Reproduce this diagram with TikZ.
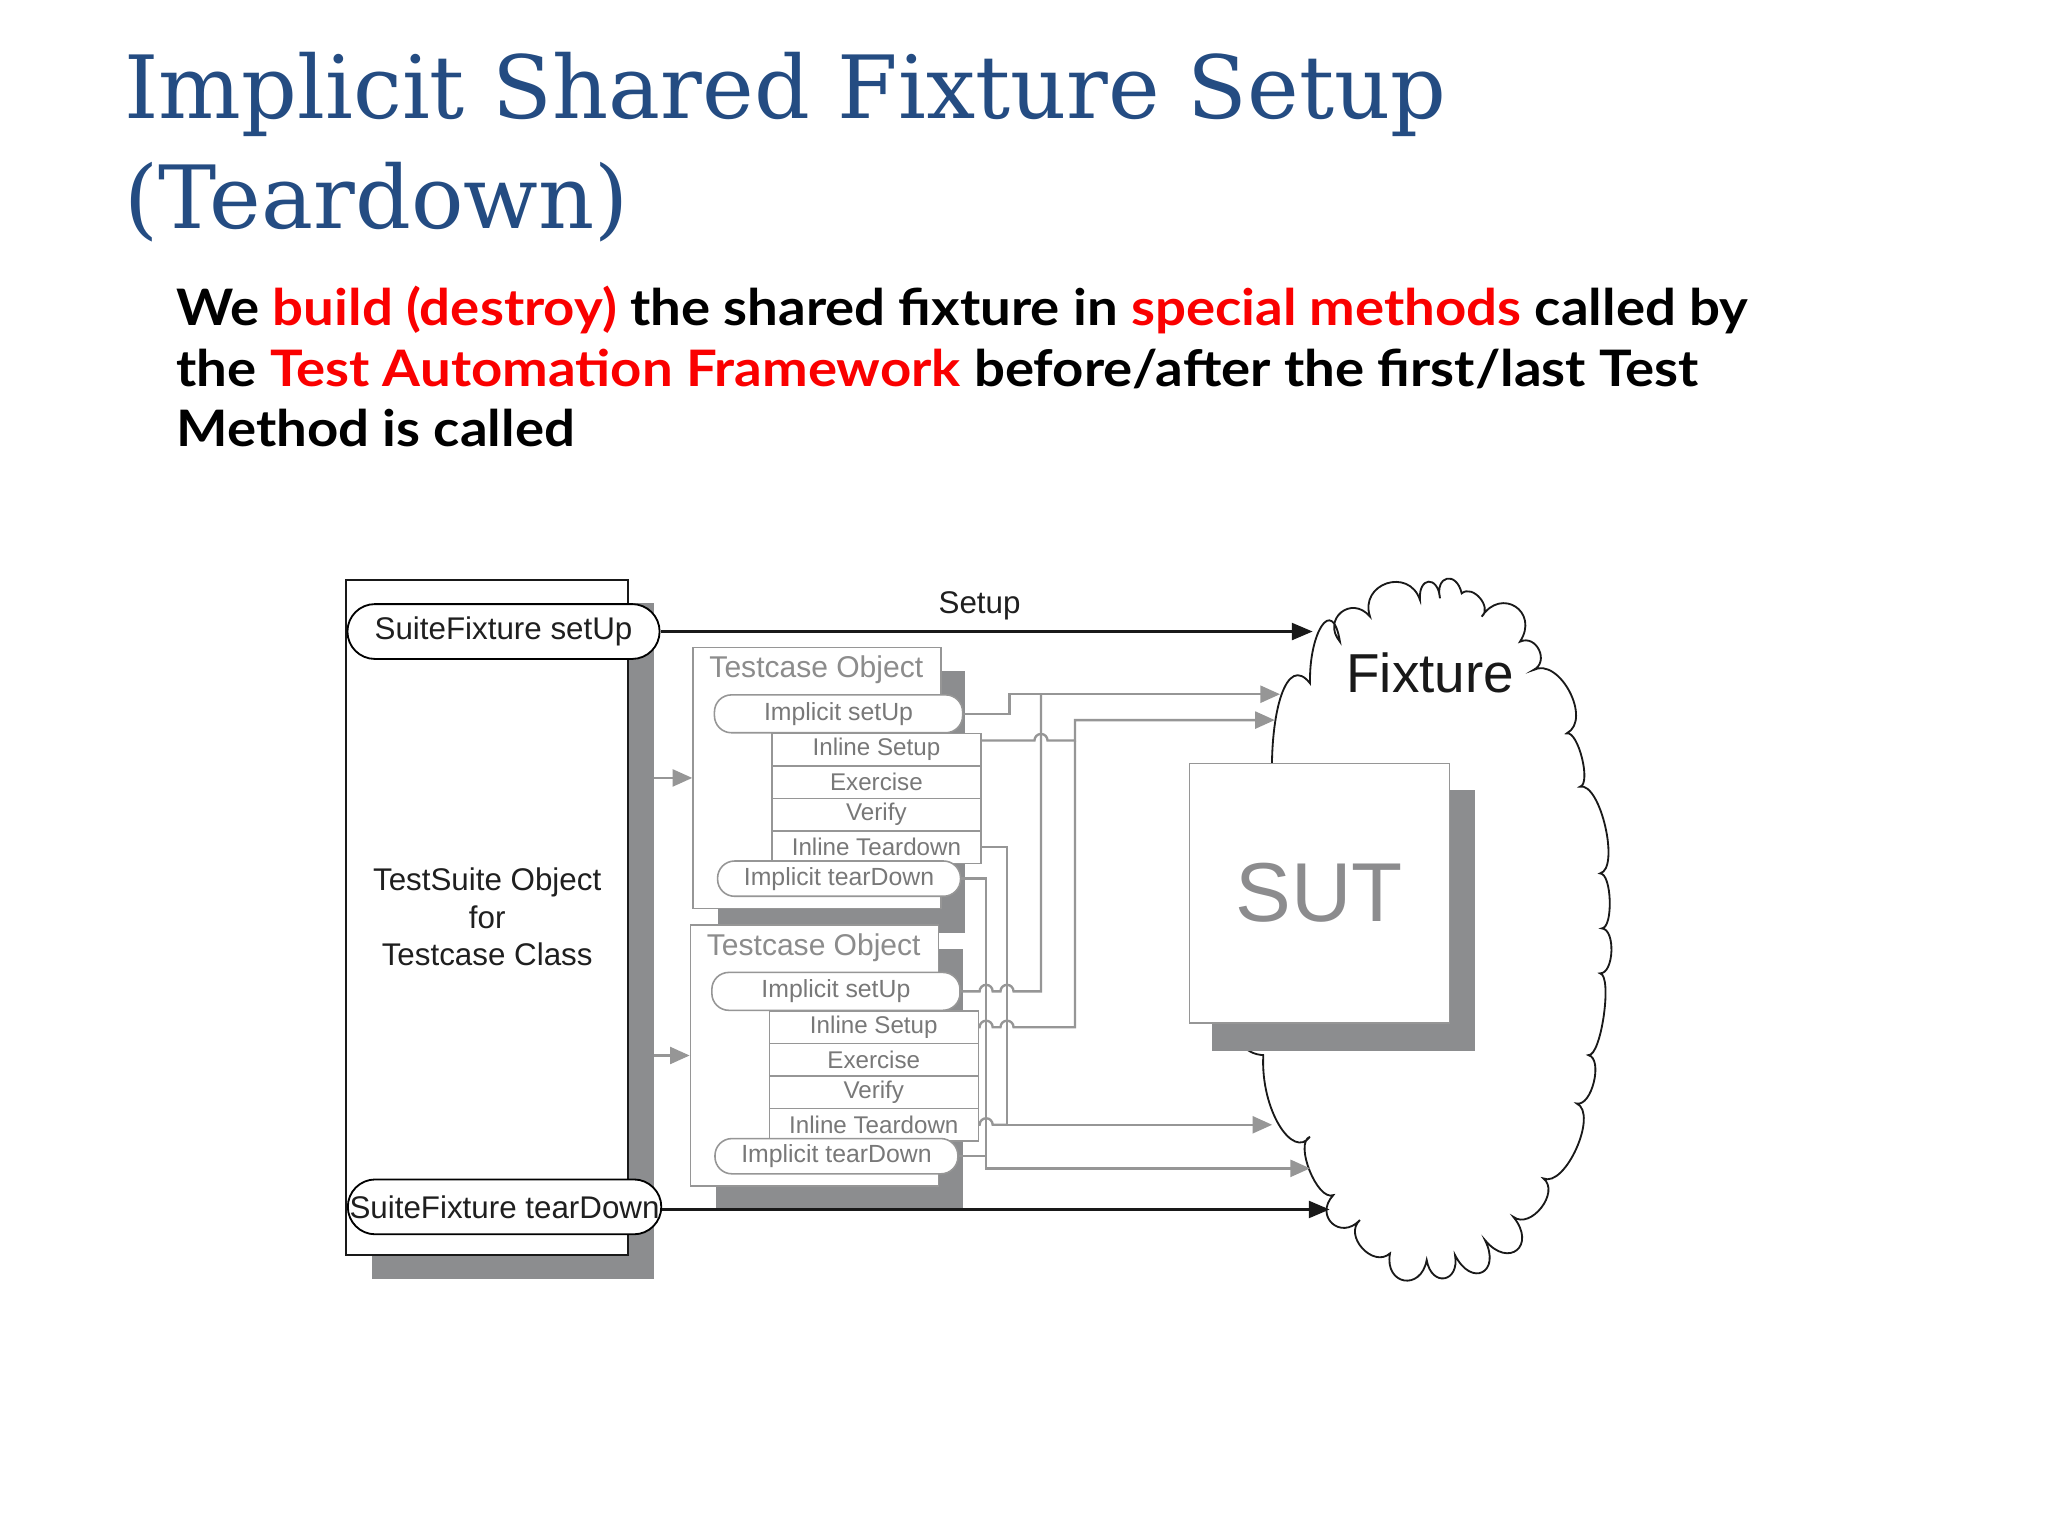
\documentclass[tikz,border=0pt]{standalone}
\usepackage{fontspec}
\setmainfont{Liberation Sans}
\newfontfamily\titlefont{DejaVu Serif}
\newfontfamily\bodyfont{Lato}
\usetikzlibrary{arrows.meta,calc}
\definecolor{titleblue}{RGB}{36,76,130}
\definecolor{hotred}{RGB}{250,0,0}
\definecolor{shadowgray}{RGB}{140,141,143}
\definecolor{linegray}{RGB}{150,150,150}
\definecolor{txtgray}{RGB}{120,120,120}
\definecolor{titlegray}{RGB}{140,140,140}
\definecolor{sutgray}{RGB}{140,140,142}
\newcommand\tcobject[2]{%
\begin{scope}[shift={#2}]
\fill[shadowgray] (550,-514) rectangle (739,-714);
\node[tcbox, anchor=north west, minimum width=190pt, minimum height=200pt] (#1) at (530,-495) {};
\node[anchor=base west, inner sep=0, text=titlegray, font=\fontsize{23}{23}\selectfont] (#1-title) at (543,-519) {Testcase Object};
\node[smallpill, minimum width=190pt, minimum height=29pt] (#1-isu) at (642,-546.5) {Implicit setUp};
\node[rowbox] (#1-r1) at (671,-573.95) {Inline Setup};
\node[rowbox] (#1-r2) at (671,-598.85) {Exercise};
\node[rowbox] (#1-r3) at (671,-623.75) {Verify};
\node[rowbox] (#1-r4) at (671,-648.65) {Inline Teardown};
\node[smallpill, minimum width=186pt, minimum height=27pt] (#1-itd) at (642.4,-672.7) {Implicit tearDown};
\end{scope}}
\newcommand\bodyline[1]{\scalebox{1.085}[1]{#1}}
\begin{document}
\begin{tikzpicture}[x=1pt,y=1pt,
  tcbox/.style={draw=linegray, line width=1.2pt, fill=white, inner sep=0pt},
  smallpill/.style={rectangle, rounded corners=13pt, draw=linegray, line width=1.2pt, fill=white, inner sep=0pt, text=txtgray, font=\fontsize{19}{19}\selectfont},
  rowbox/.style={rectangle, draw=linegray, line width=1.2pt, fill=white, minimum width=160pt, minimum height=24.9pt, inner sep=0pt, text=txtgray, font=\fontsize{18.5}{18.5}\selectfont},
  bigpill/.style={rectangle, rounded corners=21pt, draw=black, line width=1.4pt, fill=white, inner sep=0pt, font=\fontsize{24}{24}\selectfont, text=black!88},
  garrow/.style={draw=linegray, line width=1.8pt, -{Triangle[length=15pt,width=13pt]}},
  barrow/.style={draw=black!90, line width=2pt, -{Triangle[length=16pt,width=13pt]}},
  gline/.style={draw=linegray, line width=1.8pt},
  bodytext/.style={anchor=base west, inner sep=0, font=\bodyfont\bfseries\fontsize{38.5}{38.5}\selectfont},
  cloudline/.style={draw=black!90, line width=1.4pt},
]
\useasboundingbox (0,0) rectangle (1568,-1176);
\fill[white] (0,0) rectangle (1568,-1176);

% ---- title and text
\node[anchor=base west, inner sep=0, text=titleblue, font=\titlefont\fontsize{66.8}{66.8}\selectfont] (title1) at (95,-91) {Implicit Shared Fixture Setup};
\node[anchor=base west, inner sep=0, text=titleblue, font=\titlefont\fontsize{66.8}{66.8}\selectfont] (title2) at (95,-175) {(Teardown)};
\node[bodytext] (body1) at (135,-249) {\bodyline{We \textcolor{hotred}{build (destroy)} the shared fixture in \textcolor{hotred}{special methods} called by}};
\node[bodytext] (body2) at (135,-296) {\bodyline{the \textcolor{hotred}{Test Automation Framework} before/after the first/last Test}};
\node[bodytext] (body3) at (135,-342) {\bodyline{Method is called}};

% ---- fixture cloud
\draw[cloudline] (974,-600) .. controls (972,-545) and (985,-500) .. (1003,-523.2)
  .. controls (1002,-485) and (1020,-455) .. (1025.9,-491.3)
  to[bend left=90, looseness=1.9] (1048.9,-472.1)
  to[bend left=90, looseness=1.7] (1087.2,-459.4)
  to[bend left=90, looseness=3.0] (1102.5,-458.1)
  to[bend left=90, looseness=2.7] (1119.1,-454.3)
  to[bend left=90, looseness=1.2] (1134.4,-472.1)
  to[bend left=90, looseness=2.0] (1163.7,-491.3)
  to[bend left=90, looseness=1.5] (1173.9,-513)
  to[bend left=90, looseness=1.05] (1199.5,-561.5)
  to[bend left=90, looseness=0.55] (1209.7,-602.3)
  to[bend left=90, looseness=0.6] (1225,-668.7)
  to[bend left=90, looseness=0.55] (1226.3,-710.8)
  to[bend left=90, looseness=0.8] (1225,-745.2)
  to[bend left=90, looseness=0.4] (1216.1,-807.8)
  to[bend left=90, looseness=0.8] (1207.1,-844.8)
  to[bend left=90, looseness=0.75] (1181.6,-902.2)
  to[bend left=90, looseness=1.15] (1158.6,-931.6)
  to[bend left=90, looseness=2.6] (1136.9,-949.4)
  to[bend left=90, looseness=2.8] (1114,-960.9)
  to[bend left=90, looseness=2.5] (1092.3,-964.7)
  to[bend left=90, looseness=2.2] (1064.2,-959.6)
  to[bend left=90, looseness=1.3] (1041.2,-934.1)
  to[bend left=90, looseness=2.0] (1020.8,-915)
  to[bend left=90, looseness=0.7] (1002.9,-870.3)
  .. controls (990,-888) and (965,-850) .. (967.2,-807.8)
  to[bend left=90, looseness=0.7] (974,-600) -- cycle;
\node[anchor=base, inner sep=0, font=\fontsize{42}{42}\selectfont, text=black!90] (fixlbl) at (1095,-530) {Fixture};

% ---- SUT
\fill[shadowgray] (928,-605) rectangle (1129,-805);
\node[draw=linegray, line width=1.2pt, fill=white, anchor=north west, minimum width=199pt, minimum height=198.5pt, inner sep=0, text=sutgray, font=\fontsize{64}{64}\selectfont] (sut) at (910,-584) {SUT};

% ---- suite object
\node[fill=shadowgray, anchor=north west, minimum width=216pt, minimum height=517pt, inner sep=0, outer sep=0] (suiteshadow) at (285,-462) {};
\node[draw=black!90, line width=1.6pt, fill=white, anchor=north west, minimum width=216pt, minimum height=517pt, inner sep=0, outer sep=0] (suite) at (265,-444) {};
\node[align=center, font=\fontsize{24}{28.6}\selectfont, text=black!88] (suitelabel) at (373,-702) {TestSuite Object\\for\\Testcase Class};
\node[bigpill, minimum width=239pt, minimum height=42pt] (sfsu) at (385.5,-483.5) {SuiteFixture setUp};
\node[bigpill, minimum width=240pt, minimum height=42pt] (sftd) at (386.3,-924) {SuiteFixture tearDown};

% ---- testcase objects
\tcobject{tcA}{(0,0)}
\tcobject{tcB}{(-2,-212.5)}

% ---- cloud entry points
\coordinate (clSetup) at (1005,-483.5);
\coordinate (clTear) at (1018,-926);
\coordinate (clA) at (980,-531.5);
\coordinate (clB) at (976,-551.3);
\coordinate (clC) at (974,-861.15);
\coordinate (clD) at (1003,-894.5);

% ---- suite connectors
\draw[barrow] (sfsu.east) -- (clSetup);
\node[font=\fontsize{24}{24}\selectfont, text=black!88] (setuplbl) at (750,-464) {Setup};
\draw[barrow] ([yshift=-2pt]sftd.east) -- (clTear);
\draw[garrow] (suiteshadow.east |- tcA.west) -- (tcA.west);
\draw[garrow] (suiteshadow.east |- tcB.west) -- (tcB.west);

% ---- testcase connectors
% A: implicit setUp 1
\draw[garrow] (tcA-isu.east) -| (773,-531.5) -- (clA);
% E: implicit setUp 2 (joins A)
\draw[gline] (tcB-isu.east) -- (750,-759) arc[start angle=180, end angle=0, radius=5]
  -- (766,-759) arc[start angle=180, end angle=0, radius=5] -| (797,-531.5);
% B: inline setup 1
\draw[garrow] ([yshift=7pt]tcA-r1.east) -- (792,-566.95) arc[start angle=180, end angle=0, radius=5]
  -| (823,-551.3) -- (clB);
% F: inline setup 2 (joins B)
\draw[gline] (tcB-r1.east) -- (750,-786.45) arc[start angle=180, end angle=0, radius=5]
  -- (766,-786.45) arc[start angle=180, end angle=0, radius=5] -| (823,-566.95);
% C: inline teardown 1
\draw[garrow] (tcA-r4.east) -| (771,-861.15) -- (clC);
% G: inline teardown 2 (joins C)
\draw[gline] (tcB-r4.east) -- (750,-861.15) arc[start angle=180, end angle=0, radius=5] -- (771,-861.15);
% D: implicit tearDown 1
\draw[garrow] (tcA-itd.east) -| (755,-894.5) -- (clD);
% H: implicit tearDown 2 (joins D)
\draw[gline] (tcB-itd.east) -- (755,-885.2);
\end{tikzpicture}
\end{document}
